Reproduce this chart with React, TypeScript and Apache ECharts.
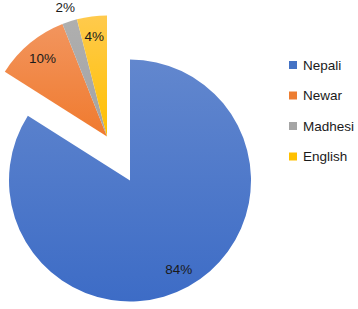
import React, { useEffect, useRef } from "react";
import * as echarts from "echarts";

const categories = ["Nepali", "Newar", "Madhesi", "English"];
const values = [84, 10, 2, 4];
const exploded = [false, true, true, true];
const outsideLabel = [false, false, true, false];

const flatColors = ["#4472C4", "#ED7D31", "#A5A5A5", "#FFC000"];
const gradTop = ["#6287CE", "#F2955E", "#AFAFAF", "#FFCA4D"];
const gradBottom = ["#3D6CC6", "#F07A2E", "#A3A3A3", "#FFC000"];

export default function App() {
  const ref = useRef<HTMLDivElement>(null);
  useEffect(() => {
    if (!ref.current) return;
    const chart = echarts.init(ref.current, undefined, { renderer: "svg" });
    const R = 121;
    const mainCenter = [130, 180.5];
    const expCenter = [107, 136.5];
    const grad = (i: number) =>
      new echarts.graphic.LinearGradient(0, 0, 0, 1, [
        { offset: 0, color: gradTop[i] },
        { offset: 1, color: gradBottom[i] },
      ]);
    const font = { fontFamily: "Liberation Sans", fontSize: 13.5, color: "#1a1a1a" };

    const shapeSeries = (center: number[], showExploded: boolean) => ({
      type: "pie",
      center,
      radius: [0, R],
      startAngle: 90,
      clockwise: true,
      silent: true,
      label: { show: false },
      labelLine: { show: false },
      data: categories.map((name, i) => ({
        name,
        value: values[i],
        itemStyle: {
          color: exploded[i] === showExploded ? grad(i) : "transparent",
          borderWidth: 0,
        },
      })),
    });

    const labelSeries = (center: number[], showExploded: boolean, outside: boolean, radius: number[]) => ({
      type: "pie",
      center,
      radius,
      startAngle: 90,
      clockwise: true,
      silent: true,
      labelLine: { show: false },
      data: categories.map((name, i) => ({
        name,
        value: values[i],
        itemStyle: { color: "transparent", borderWidth: 0 },
        label: {
          show: exploded[i] === showExploded && outsideLabel[i] === outside,
          position: "inside",
          formatter: "{d}%",
          ...font,
        },
      })),
    });

    chart.setOption({
      animation: false,
      backgroundColor: "#ffffff",
      legend: {
        orient: "vertical",
        left: 284,
        top: 53,
        itemWidth: 8,
        itemHeight: 8,
        itemGap: 16.5,
        icon: "rect",
        selectedMode: false,
        textStyle: { fontFamily: "Liberation Sans", fontSize: 13.5, color: "#1a1a1a", padding: [0, 0, 0, 1] },
        data: categories.map((name, i) => ({ name, itemStyle: { color: flatColors[i] } })),
      },
      series: [
        shapeSeries(mainCenter, false),
        shapeSeries(expCenter, true),
        labelSeries(mainCenter, false, false, [R * 0.62, R]),
        labelSeries(expCenter, true, false, [R * 0.62, R]),
        labelSeries(expCenter, true, true, [R, R * 1.19]),
      ],
    });
    return () => chart.dispose();
  }, []);
  return <div ref={ref} style={{ position: "fixed", left: 0, top: 0, width: 358, height: 309 }} />;
}
